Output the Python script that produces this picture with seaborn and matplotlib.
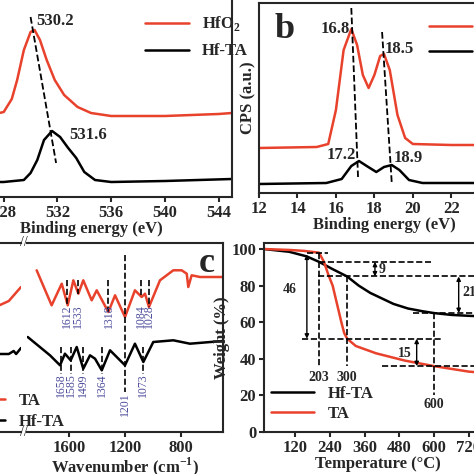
import matplotlib
matplotlib.use("Agg")
import matplotlib.pyplot as plt
import seaborn as sns
import pandas as pd

sns.set_style("ticks")
plt.rcParams['font.family'] = ['Liberation Serif', 'DejaVu Serif']
plt.rcParams['font.weight'] = 'bold'
plt.rcParams['axes.labelweight'] = 'bold'
plt.rcParams['axes.linewidth'] = 1.5
plt.rcParams['lines.solid_joinstyle'] = 'round'
RED = '#e8412c'
BLUE = '#4b4b9b'
FS = 12

# ---- panel a: O 1s (binding energy eV, intensity a.u.)
a_red_x = [524, 527, 528, 528.6, 529, 529.5, 530.0, 530.3, 530.7, 531.2, 531.8, 532.5, 533.5, 534.5, 536, 540, 544, 545]
a_red_y = [81, 82, 85, 98, 117, 147, 165, 167, 157, 137, 117, 102, 90, 84, 81, 81, 83, 84]
a_blk_x = [524, 528, 529.5, 530.0, 530.5, 531.0, 531.6, 532.2, 532.8, 533.4, 534, 534.8, 536, 540, 545]
a_blk_y = [15, 15, 17, 24, 37, 57, 66, 60, 49, 39, 25, 17, 15, 16, 18]
# ---- panel b: valence band
b_red_x = [12, 15, 15.6, 16.0, 16.4, 16.8, 17.1, 17.4, 17.7, 18.0, 18.3, 18.5, 18.8, 19.2, 19.6, 20, 22, 25]
b_red_y = [45, 46, 49, 83, 143, 164, 148, 118, 105, 118, 137, 139, 123, 78, 55, 49, 48, 48]
b_blk_x = [12, 15.5, 16.3, 16.8, 17.2, 17.6, 18.1, 18.5, 18.9, 19.3, 19.8, 20.5, 25]
b_blk_y = [9, 10, 14, 27, 32, 27, 21, 26, 28, 23, 13, 10, 10]
# ---- panel c: FTIR
c_red_x = [1831, 1770, 1724, 1652, 1609, 1569, 1533, 1498, 1438, 1402, 1319, 1271, 1200, 1129, 1081, 1057, 1029, 950, 855, 795, 759, 748, 724, 664, 502]
c_red_y = [161.7, 141.7, 126.7, 148.3, 126.7, 151.7, 138.3, 151.7, 131.7, 141.7, 120, 136.7, 115, 141.7, 135, 138.3, 125, 151.7, 161.7, 161.7, 158.3, 145, 156.7, 155, 155]
c_blk_x = [1895, 1736, 1664, 1629, 1588, 1545, 1498, 1450, 1414, 1366, 1307, 1200, 1129, 1069, 998, 855, 736, 502]
c_blk_y = [95, 76.7, 66.7, 78.3, 71.7, 85, 63.3, 76.7, 73.3, 61.7, 81.7, 66.7, 88.3, 70, 90, 91.7, 88.3, 91]
cl_red_x = [3700, 3372, 3300, 3250, 3200]
cl_red_y = [120, 127, 131, 138, 145]
cl_blk_x = [3700, 3300, 3260, 3240, 3200]
cl_blk_y = [78, 78, 81, 78, 84]
red_peaks = [1612, 1533, 1318, 1084, 1028]
red_dips = [127, 138, 120, 135, 125]
blk_peaks = [1658, 1585, 1499, 1364, 1073]
# ---- panel d: TGA
d_blk_t = [13, 100, 160, 203, 250, 300, 340, 380, 420, 460, 510, 560, 600, 660, 720, 800]
d_blk_w = [100, 98.5, 96, 93, 89, 85, 80, 76, 73, 70, 67.5, 66, 65, 64, 63.5, 63]
d_red_t = [13, 100, 150, 203, 220, 235, 250, 265, 280, 290, 300, 330, 400, 500, 600, 720, 800]
d_red_w = [100, 99.5, 99, 98, 93, 86, 80, 70, 60, 54, 51, 47, 43, 39, 36, 33, 32]

fig = plt.figure(figsize=(4.74, 4.74), dpi=100)
def rect(l, r, t, b):
    return [l/474, 1-b/474, (r-l)/474, (b-t)/474]

def style(ax):
    for s in ax.spines.values():
        s.set_linewidth(1.5)
    ax.tick_params(labelsize=FS, width=1.5, direction='out', pad=2)

# a
ax = fig.add_axes(rect(-50, 232, -50, 197))
sns.lineplot(x=a_red_x, y=a_red_y, ax=ax, color=RED, lw=1.8, label='HfO$_\\mathregular{2}$', sort=False)
sns.lineplot(x=a_blk_x, y=a_blk_y, ax=ax, color='k', lw=1.8, label='Hf-TA', sort=False)
ax.set_xlim(524, 545); ax.set_ylim(0, 247)
ax.set_xticks([528, 532, 536, 540, 544]); ax.set_yticks([])
ax.set_xlabel('Binding energy (eV)', fontsize=FS, labelpad=0)
ax.plot([530.0, 531.9], [180, 34], 'k--', lw=1.3)
ax.text(530.4, 172, '530.2', fontsize=FS, fontweight='bold')
ax.text(532.9, 58, '531.6', fontsize=FS, fontweight='bold')
ax.legend(loc='upper left', bbox_to_anchor=(0.64, 0.80), frameon=False, fontsize=FS, handlelength=2.6, labelspacing=0.6)
style(ax)

# b
ax = fig.add_axes(rect(259, 509, 3, 193))
sns.lineplot(x=b_red_x, y=b_red_y, ax=ax, color=RED, lw=1.8, label='HfO$_\\mathregular{2}$', sort=False)
sns.lineplot(x=b_blk_x, y=b_blk_y, ax=ax, color='k', lw=1.8, label='Hf-TA', sort=False)
ax.set_xlim(12, 25); ax.set_ylim(0, 190)
ax.set_xticks([12, 14, 16, 18, 20, 22, 24]); ax.set_yticks([])
ax.set_xlabel('Binding energy (eV)', fontsize=FS, labelpad=0)
ax.set_ylabel('CPS (a.u.)', fontsize=FS, labelpad=2)
ax.plot([16.8, 17.15], [185, 16], 'k--', lw=1.3)
ax.plot([18.4, 18.9], [161, 11], 'k--', lw=1.3)
ax.text(16.75, 160, '16.8', fontsize=FS, fontweight='bold', ha='right')
ax.text(18.55, 140, '18.5', fontsize=FS, fontweight='bold')
ax.text(17.05, 34, '17.2', fontsize=FS, fontweight='bold', ha='right')
ax.text(19.0, 31, '18.9', fontsize=FS, fontweight='bold')
ax.text(12.8, 155, 'b', fontsize=26, fontweight='bold')
ax.legend(loc='upper left', bbox_to_anchor=(0.62, 1.0), frameon=False, fontsize=FS, handlelength=2.6)
style(ax)

# c left segment
axl = fig.add_axes(rect(-40, 21, 243, 432))
sns.lineplot(x=cl_red_x, y=cl_red_y, ax=axl, color=RED, lw=1.8, sort=False)
sns.lineplot(x=cl_blk_x, y=cl_blk_y, ax=axl, color='k', lw=1.8, sort=False)
axl.set_xlim(3700, 3200); axl.set_ylim(0, 189)
axl.set_xticks([]); axl.set_yticks([])
axl.spines['right'].set_visible(False)
style(axl)
# c right segment
ax = fig.add_axes(rect(27, 223, 243, 432))
sns.lineplot(x=c_red_x, y=c_red_y, ax=ax, color=RED, lw=1.8, sort=False, label='TA')
sns.lineplot(x=c_blk_x, y=c_blk_y, ax=ax, color='k', lw=1.8, sort=False, label='Hf-TA')
ax.set_xlim(1900, 500); ax.set_ylim(0, 189)
ax.set_xticks([1600, 1200, 800]); ax.set_yticks([])
ax.spines['left'].set_visible(False)
ax.set_xlabel('Wavenumber (cm$^{\\mathregular{-1}}$)', fontsize=FS, labelpad=0)
h, l = ax.get_legend_handles_labels()
ax.get_legend().remove()
fig.legend(h, l, loc='upper left', bbox_to_anchor=(-28/474, 1-386/474), frameon=False, fontsize=FS, handlelength=1.6, labelspacing=0.3, borderaxespad=0)
for p, d in zip(red_peaks, red_dips):
    ax.plot([p, p], [152, d], 'k--', lw=1.2)
    ax.text(p, 116, str(p), rotation=90, color=BLUE, fontsize=8.5, ha='center', va='center', fontweight='normal')
for p in blk_peaks:
    ax.plot([p, p], [85, 58], 'k--', lw=1.2)
    ax.text(p, 47, str(p), rotation=90, color=BLUE, fontsize=8.5, ha='center', va='center', fontweight='normal')
ax.plot([1201, 1201], [177, 40], 'k--', lw=1.2)
ax.text(1201, 28, '1201', rotation=90, color=BLUE, fontsize=8.5, ha='center', va='center', fontweight='normal')
ax.text(560, 160, 'c', fontsize=26, fontweight='bold', ha='right')
fig.text(24/474, 1-243/474, '//', fontsize=10, ha='center', va='center', fontweight='normal')
fig.text(24/474, 1-432/474, '//', fontsize=10, ha='center', va='center', fontweight='normal')
style(ax)

# d
ax = fig.add_axes(rect(264, 492, 243, 432))
sns.lineplot(x=d_blk_t, y=d_blk_w, ax=ax, color='k', lw=1.8, label='Hf-TA')
sns.lineplot(x=d_red_t, y=d_red_w, ax=ax, color=RED, lw=1.8, label='TA')
ax.set_xlim(13, 800); ax.set_ylim(0, 103.3)
ax.set_xticks([120, 240, 360, 480, 600, 720]); ax.set_yticks([0, 20, 40, 60, 80, 100])
ax.set_xlabel('Temperature (\u00b0C)', fontsize=FS, labelpad=0)
ax.set_ylabel('Weight (%)', fontsize=FS, labelpad=1)
ax.legend(loc='lower left', bbox_to_anchor=(0.0, 0.02), frameon=False, fontsize=FS, handlelength=2.6, labelspacing=0.2, borderaxespad=0)
kw = dict(color='k', ls='--', lw=1.2)
ax.plot([160, 235], [98, 98], **kw)
ax.plot([203, 590], [93, 93], **kw)
ax.plot([200, 800], [85, 85], **kw)
ax.plot([527, 800], [65, 65], **kw)
ax.plot([144, 630], [51, 51], **kw)
ax.plot([420, 800], [36, 36], **kw)
ax.plot([203, 203], [98, 36], **kw)
ax.plot([300, 300], [85, 36], **kw)
ax.plot([600, 600], [65, 20], **kw)
for x, y0, y1 in [(161, 97, 51), (396, 93, 85), (685, 85, 65), (540, 51, 36)]:
    ax.annotate('', xy=(x, y1), xytext=(x, y0), arrowprops=dict(arrowstyle='<|-|>', color='k', lw=1.0, mutation_scale=6, shrinkA=0, shrinkB=0))
ax.text(103, 78, '46', fontsize=10, ha='center', va='center')
ax.text(420, 89, '9', fontsize=10, ha='center', va='center')
ax.text(720, 76, '21', fontsize=10, ha='center', va='center')
ax.text(500, 43, '15', fontsize=10, ha='center', va='center')
ax.text(203, 30, '203', fontsize=10, ha='center', va='center')
ax.text(300, 30, '300', fontsize=10, ha='center', va='center')
ax.text(600, 15, '600', fontsize=10, ha='center', va='center')
style(ax)

fig.savefig('out.png', dpi=100)
